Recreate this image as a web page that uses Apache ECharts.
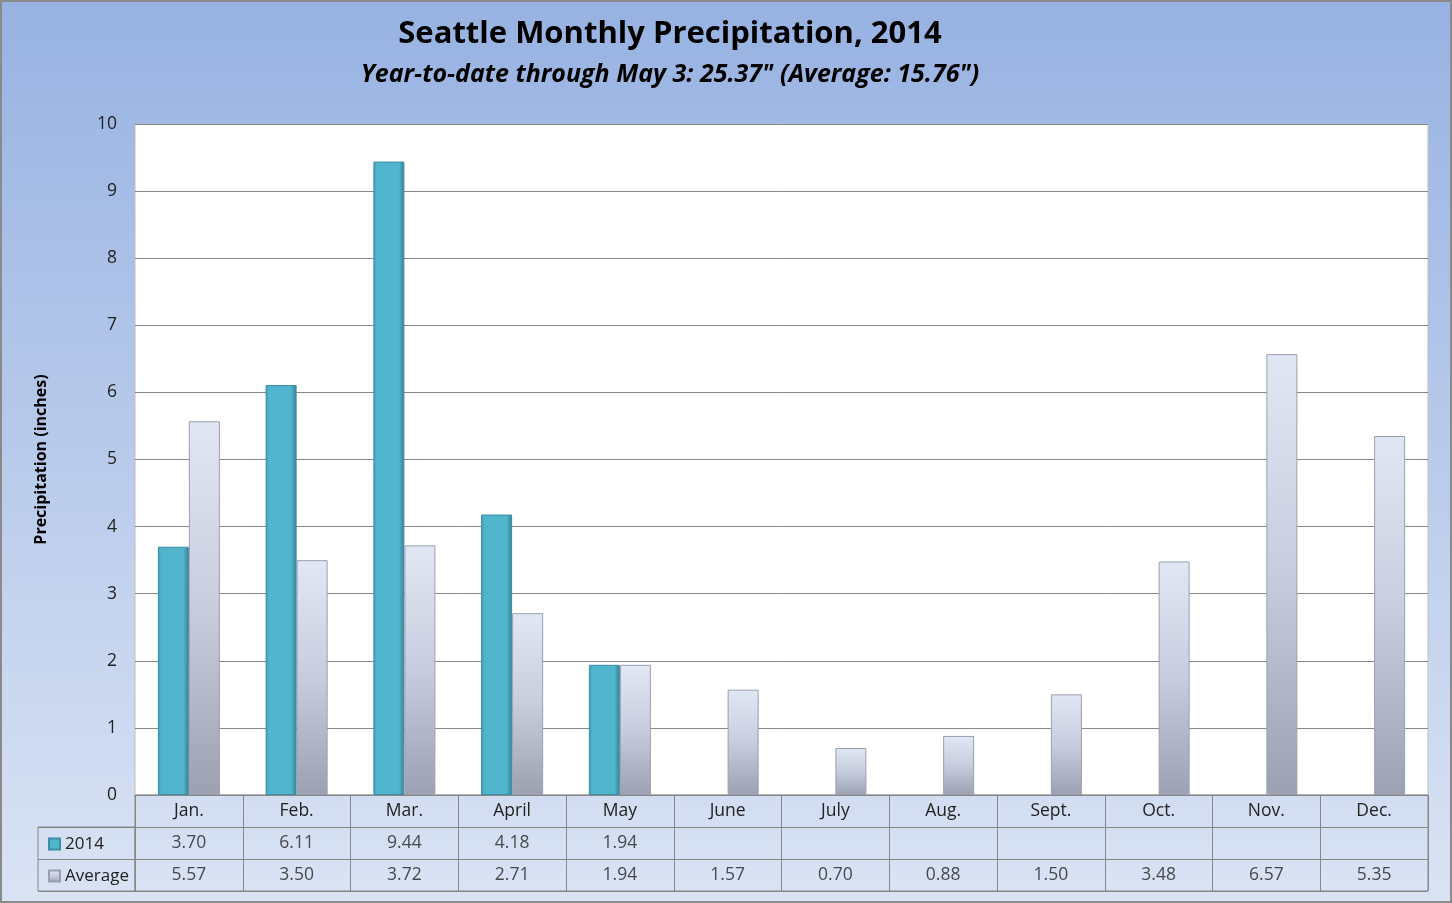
<!DOCTYPE html>
<html><head><meta charset="utf-8">
<script src="https://cdn.jsdelivr.net/npm/echarts@6/dist/echarts.min.js"></script>
<style>html,body{margin:0;padding:0;}#c{width:1452px;height:903px;}</style>
</head><body><div id="c"></div>
<script>
const months = ['Jan.','Feb.','Mar.','April','May','June','July','Aug.','Sept.','Oct.','Nov.','Dec.'];
const precip2014 = [3.70, 6.11, 9.44, 4.18, 1.94, null, null, null, null, null, null, null];
const precipAvg = [5.57, 3.50, 3.72, 2.71, 1.94, 1.57, 0.70, 0.88, 1.50, 3.48, 6.57, 5.35];
const seriesNames = ['2014', 'Average'];
const yTicks = [0,1,2,3,4,5,6,7,8,9,10];

const FONT = '"Open Sans", "Liberation Sans", sans-serif';
const lineColor = '#878787';

const cyanFill = new echarts.graphic.LinearGradient(0,0,1,0,[
  {offset:0,color:'#3f9db6'},{offset:0.12,color:'#52b5ce'},
  {offset:0.82,color:'#52b5ce'},{offset:1,color:'#357f94'}]);
const grayFill = new echarts.graphic.LinearGradient(0,0,0,1,[
  {offset:0,color:'#e2e7f5'},{offset:0.5,color:'#c8cdde'},{offset:1,color:'#9ca1b1'}]);

const cellData = [];
months.forEach((m,i)=>{
  if (precip2014[i] != null) cellData.push([m, seriesNames[0], precip2014[i]]);
  if (precipAvg[i] != null) cellData.push([m, seriesNames[1], precipAvg[i]]);
});

const chart = echarts.init(document.getElementById('c'));
chart.setOption({
  backgroundColor: new echarts.graphic.LinearGradient(0,0,0,1,[
    {offset:0,color:'#97b2e2'},{offset:1,color:'#dae3f4'}]),
  animation:false,
  textStyle:{fontFamily:FONT},
  title:[{
    text:'Seattle Monthly Precipitation, 2014',
    left:665, top:14, textAlign:'center',
    textStyle:{fontFamily:FONT,fontSize:31,fontWeight:'bold',color:'#000'}
  },{
    text:'Year-to-date through May 3: 25.37" (Average: 15.76")',
    left:665, top:57, textAlign:'center',
    textStyle:{fontFamily:FONT,fontSize:25,fontWeight:'bold',fontStyle:'italic',color:'#000'}
  }],
  legend:{
    orient:'vertical', left:43, top:829, icon:'rect',
    itemWidth:11, itemHeight:11, itemGap:12,
    data:seriesNames,
    textStyle:{fontFamily:FONT,fontSize:17,color:'#222',lineHeight:20},
    selectedMode:false
  },
  graphic:[{
    type:'rect', shape:{x:1,y:1,width:1450,height:901},
    style:{fill:'none',stroke:'#8a8a8a',lineWidth:2}, silent:true, z:100
  }],
  grid:[
    {left:135, right:24, top:124, bottom:108, show:true, backgroundColor:'#fff', borderColor:'#bdbdbd', borderWidth:1},
    {left:135, right:24, top:795, height:96, show:true, borderColor:lineColor, borderWidth:1},
    {left:38, width:97, top:827, height:64, show:true, borderColor:lineColor, borderWidth:1}
  ],
  xAxis:[
    {type:'category', gridIndex:0, data:months,
     axisLine:{show:true,lineStyle:{color:lineColor}}, axisTick:{show:false},
     axisLabel:{fontFamily:FONT,fontSize:17.5,color:'#222',margin:7}},
    {type:'category', gridIndex:1, data:months,
     axisLine:{show:false}, axisTick:{show:false}, axisLabel:{show:false},
     splitLine:{show:true,lineStyle:{color:lineColor}}},
    {type:'value', gridIndex:2, show:false}
  ],
  yAxis:[
    {type:'value', gridIndex:0, min:0, max:10, interval:1,
     name:'Precipitation (inches)', nameLocation:'middle', nameGap:86,
     nameTextStyle:{fontFamily:FONT,fontSize:16,fontWeight:'bold',color:'#000'},
     axisLine:{show:false}, axisTick:{show:false},
     axisLabel:{fontFamily:FONT,fontSize:17.5,color:'#222',margin:18,
       formatter:v=>yTicks.includes(v)?String(v):''},
     splitLine:{show:true,lineStyle:{color:lineColor}}},
    {type:'category', gridIndex:1, data:[seriesNames[1], seriesNames[0], ''],
     axisLine:{show:false}, axisTick:{show:false}, axisLabel:{show:false},
     splitLine:{show:true,lineStyle:{color:lineColor}}},
    {type:'category', gridIndex:2, data:[seriesNames[1], seriesNames[0]],
     axisLine:{show:false}, axisTick:{show:false}, axisLabel:{show:false},
     splitLine:{show:true,lineStyle:{color:lineColor}}}
  ],
  series:[
    {name:seriesNames[0], type:'bar', xAxisIndex:0, yAxisIndex:0, data:precip2014,
     barWidth:31, barGap:'0%',
     itemStyle:{color:cyanFill, borderColor:'#3a8ea5', borderWidth:1}},
    {name:seriesNames[1], type:'bar', xAxisIndex:0, yAxisIndex:0, data:precipAvg,
     barWidth:31, barGap:'0%',
     itemStyle:{color:grayFill, borderColor:'#9a9fae', borderWidth:1}},
    {type:'scatter', xAxisIndex:1, yAxisIndex:1, data:cellData, symbolSize:1,
     itemStyle:{color:'rgba(0,0,0,0)'},
     label:{show:true, position:'inside', fontFamily:FONT, fontSize:17.5, color:'#222',
       formatter:p=>p.value[2].toFixed(2)},
     silent:true}
  ]
});
</script></body></html>
